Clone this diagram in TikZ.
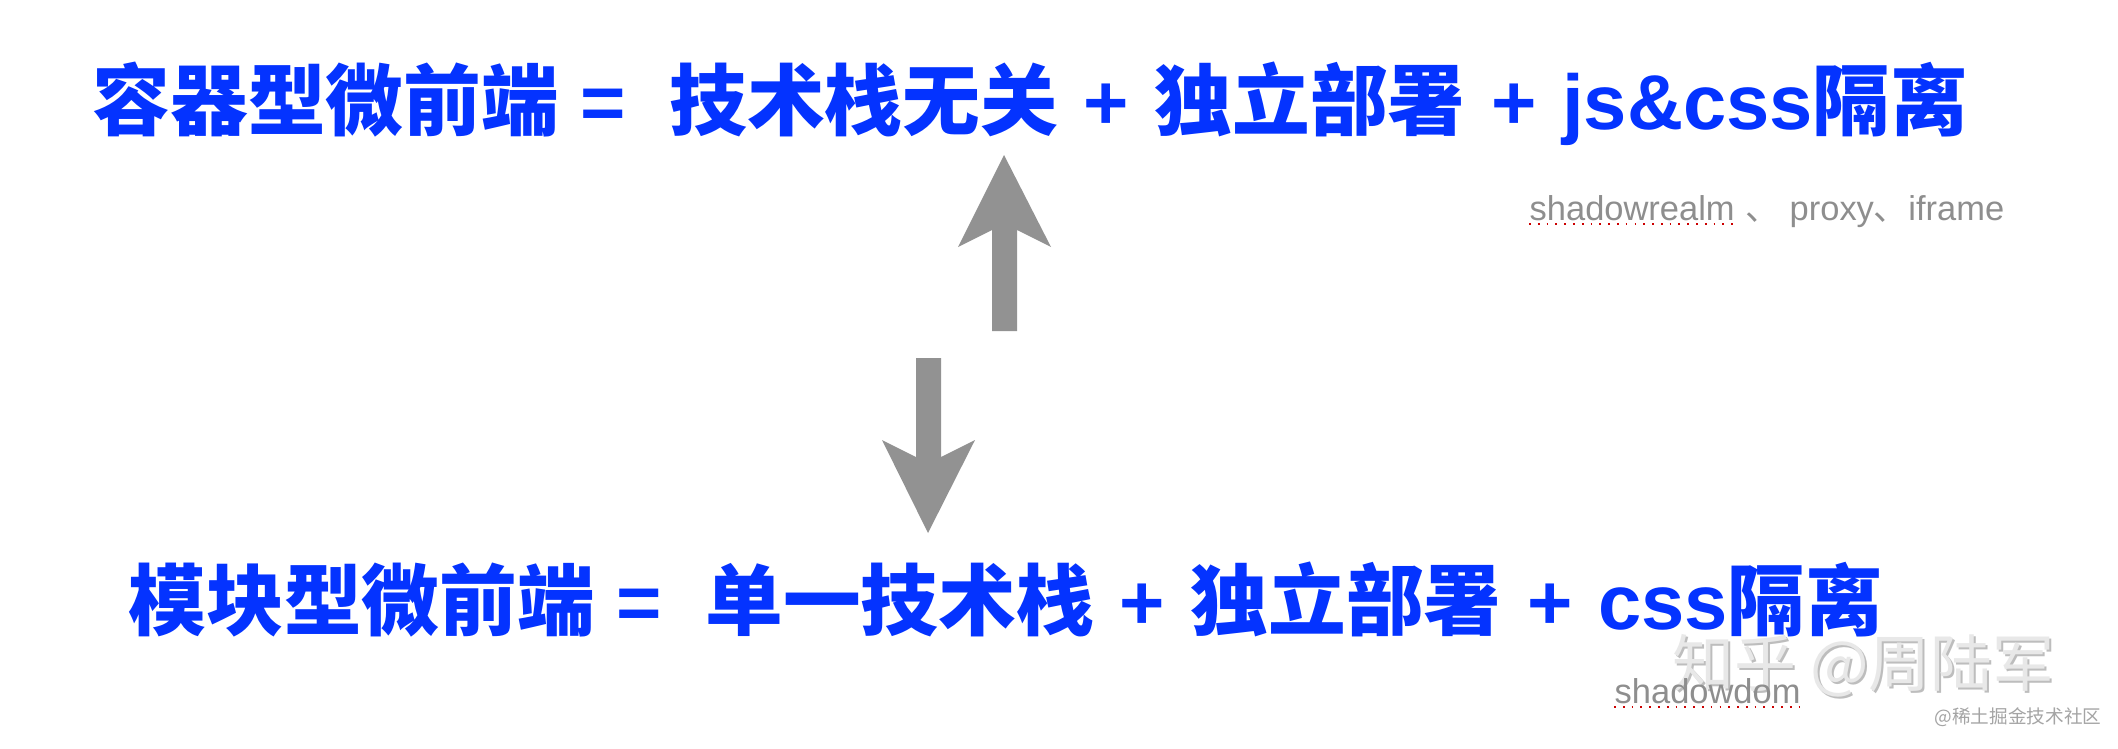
\documentclass[tikz,border=0pt]{standalone}
\usepackage{fontspec}
\setmainfont{Liberation Sans}
\newfontfamily\zhfont{Noto Sans CJK SC}
\newcommand\zh[1]{{\zhfont #1}}
\newcommand\plusgap{\hspace{0.33em}+\hspace{0.33em}}
\definecolor{kblue}{HTML}{0433FF}
\definecolor{arrowgray}{HTML}{929292}
\definecolor{notegray}{HTML}{8E8E8E}
\definecolor{wmdark}{HTML}{BDBDBD}
\definecolor{wmlight}{HTML}{E8E8E8}
\tikzset{
  title/.style={inner sep=0pt, anchor=base west, text=kblue, font=\fontsize{22.1}{26}\selectfont\bfseries},
  note/.style={inner sep=0pt, anchor=base west, text=notegray, font=\fontsize{9.8}{12}\selectfont},
  squig/.style={draw=red!80!black, dotted, line width=0.5pt},
  blockarrow/.style={fill=arrowgray, draw=none},
  wm/.style={inner sep=0pt, anchor=base west, font=\fontsize{17.6}{20}\selectfont\zhfont},
  wmsmall/.style={inner sep=0pt, anchor=base west, text=notegray!80, font=\fontsize{5.3}{6}\selectfont\zhfont}
}
\begin{document}
\begin{tikzpicture}[x=0.01cm,y=-0.01cm]
\useasboundingbox[fill=white] (0,0) rectangle (2118,748);
% watermarks (behind)
\node[wm, text=wmdark] (wmshadow) at (1674,688) {知乎 @周陆军};
\node[wm, text=wmlight] (wmtext) at (1672,686) {知乎 @周陆军};
\node[wmsmall] (juejin) at (1934,723) {@稀土掘金技术社区};
% titles
\node[title] (top) at (92,129) {\zh{容器型微前端} =\hspace{0.56em}\zh{技术栈无关}\plusgap\zh{独立部署}\plusgap js\&css\zh{隔离}};
\node[title] (bottom) at (128,629) {\zh{模块型微前端} =\hspace{0.56em}\zh{单一技术栈}\plusgap\zh{独立部署}\plusgap css\zh{隔离}};
% notes
\node[note] (sr) at (1529,220) {shadowrealm};
\node[note] (px) at (sr.base east) {\ \zh{、} proxy\zh{、}iframe};
\draw[squig] ([yshift=-1.2pt]sr.base west) -- ([yshift=-1.2pt]sr.base east);
\node[note] (sd) at (1614,703) {shadowdom};
\draw[squig] ([yshift=-1.2pt]sd.base west) -- ([yshift=-1.2pt]sd.base east);
% block arrows
\fill[blockarrow] (1004,155) -- (1051,247) -- (1017,230) -- (1017,331) -- (992,331) -- (992,230) -- (958,247) -- cycle;
\fill[blockarrow] (928,533) -- (975,440) -- (941,457) -- (941,358) -- (916,358) -- (916,457) -- (882,440) -- cycle;
\end{tikzpicture}
\end{document}
